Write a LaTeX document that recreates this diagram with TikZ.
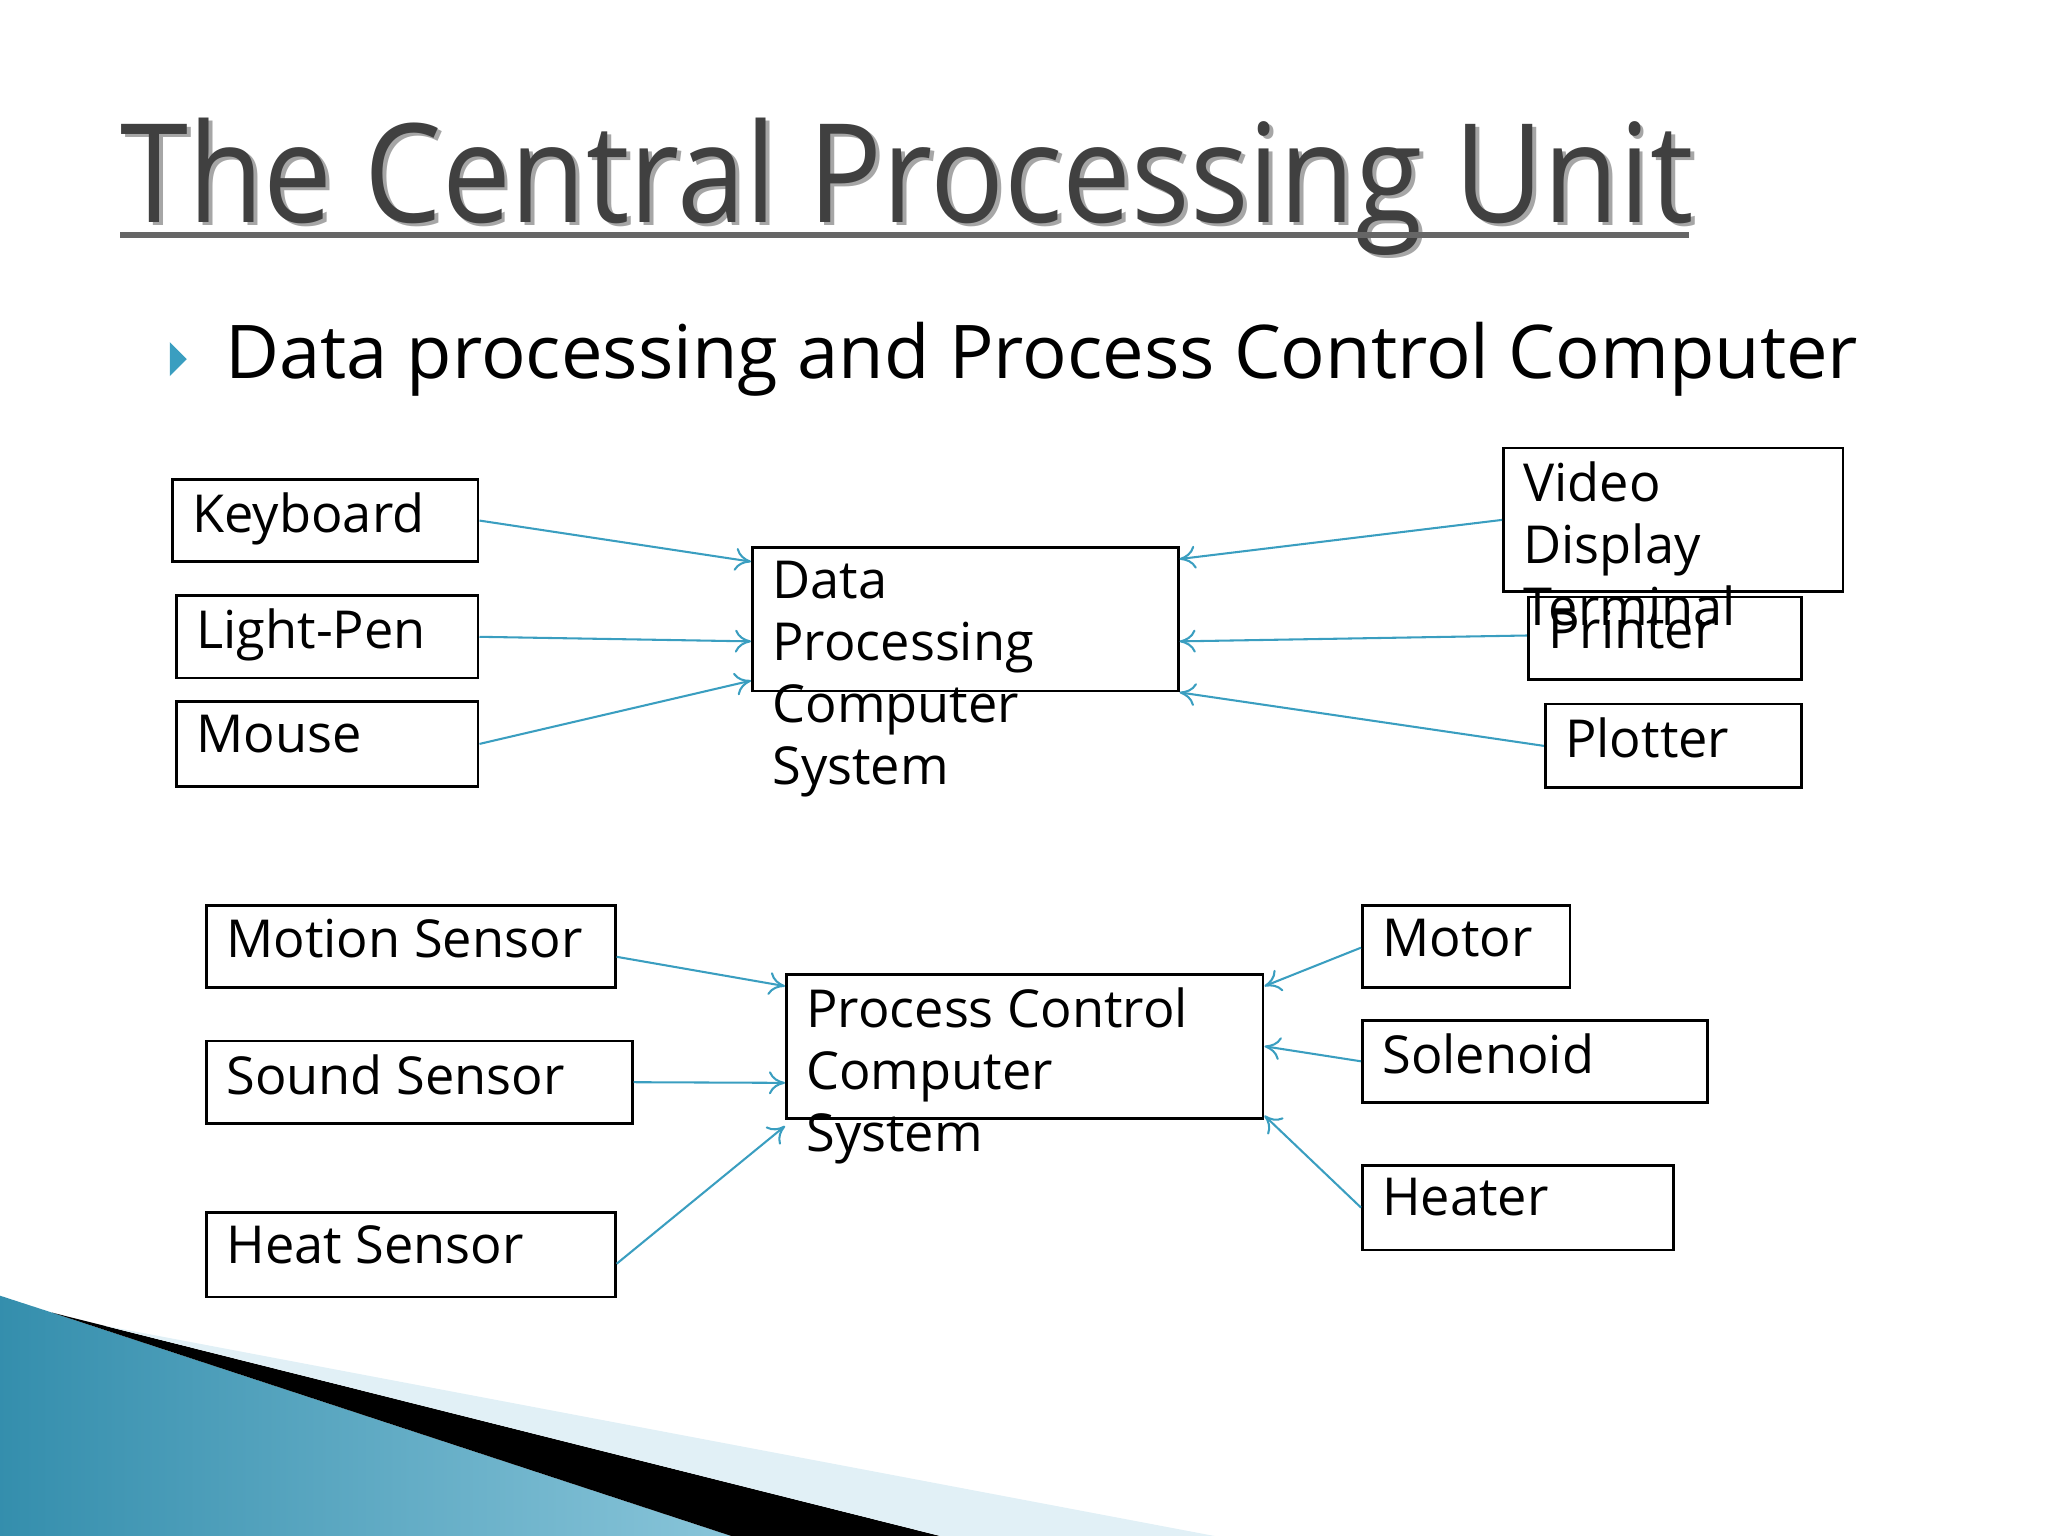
\documentclass[tikz,border=0pt]{standalone}
\usepackage{fontspec}
\setmainfont{Open Sans}
\usetikzlibrary{calc,arrows.meta}
\definecolor{teal}{HTML}{3A9EC0}
\begin{document}
\begin{tikzpicture}[x=0.02cm,y=-0.02cm,
 box/.style={draw,line width=1.2pt,inner sep=0pt,anchor=north west},
 txt/.style={anchor=north west,inner sep=0pt,font=\fontsize{22.8}{27}\selectfont,align=left},
 con/.style={draw=teal,line width=0.9pt,-{To[length=7pt,width=10pt]}}]
\useasboundingbox (0,0) rectangle (1568,1176);
% decoration
\shade[left color=teal!90!black,right color=teal!60] (0,992) -- (40,1005) -- (560,1176) -- (0,1176) -- cycle;
\fill[black] (40,1005) -- (720,1176) -- (560,1176) -- cycle;
\fill[teal!15] (80,1015) -- (930,1176) -- (720,1176) -- cycle;
% title
\node[anchor=base west,inner sep=0pt,text=black!35,font=\fontsize{53.5}{60}\selectfont] at (95,173) {\scalebox{1}[1.12]{The Central Processing Unit}};
\node[anchor=base west,inner sep=0pt,text=black!75,font=\fontsize{53.5}{60}\selectfont] (title) at (92,170) {\scalebox{1}[1.12]{The Central Processing Unit}};
\draw[black!60,line width=2.5pt] (92,180) -- (1293,180);
\fill[teal] (130,262) -- (143,275) -- (130,288) -- cycle;
\node[anchor=base west,inner sep=0pt,font=\fontsize{32.3}{38}\selectfont] (sub) at (172,290) {Data processing and Process Control Computer};
% boxes
\newcommand{\bx}[6]{\node[box,minimum width={(#4-#2)*0.02cm},minimum height={(#5-#3)*0.02cm}] (#1) at (#2,#3) {};
 \node[txt] (#1t) at (#2+16,#3+11) {#6};}
\bx{kb}{131}{366}{365}{429}{Keyboard}
\bx{lp}{134}{455}{365}{518}{Light-Pen}
\bx{ms}{134}{536}{365}{601}{Mouse}
\bx{dp}{575}{418}{901}{528}{Data\\Processing\\Computer\\System}
\bx{vd}{1150}{342}{1410}{452}{Video\\Display\\Terminal}
\bx{pr}{1169}{456}{1378}{519}{Printer}
\bx{pl}{1182}{538}{1378}{602}{Plotter}
\bx{mo}{157}{692}{470}{755}{Motion Sensor}
\bx{so}{157}{796}{483}{859}{Sound Sensor}
\bx{he}{157}{927}{470}{992}{Heat Sensor}
\bx{pc}{601}{745}{966}{855}{Process Control\\Computer\\System}
\bx{mt}{1042}{692}{1201}{755}{Motor}
\bx{sl}{1042}{780}{1306}{843}{Solenoid}
\bx{ht}{1042}{891}{1280}{956}{Heater}
% connectors
\draw[con] (kb.east) -- ($(dp.north west)+(0,12)$);
\draw[con] (lp.east) -- ($(dp.west)+(0,17)$);
\draw[con] (ms.east) -- ($(dp.south west)+(0,-9)$);
\draw[con] (vd.west) -- ($(dp.north east)+(0,10)$);
\draw[con] ($(pr.west)+(0,-2)$) -- ($(dp.east)+(0,17)$);
\draw[con] (pl.west) -- (dp.south east);
\draw[con] ($(mo.east)+(0,8)$) -- ($(pc.north west)+(0,10)$);
\draw[con] (so.east) -- ($(pc.west)+(0,28)$);
\draw[con] ($(he.east)+(0,7)$) -- ($(pc.south west)+(0,5)$);
\draw[con] ($(mt.west)+(0,1)$) -- ($(pc.north east)+(0,10)$);
\draw[con] (sl.west) -- ($(pc.east)+(0,0)$);
\draw[con] (ht.west) -- ($(pc.south east)+(0,-3)$);
\end{tikzpicture}
\end{document}
